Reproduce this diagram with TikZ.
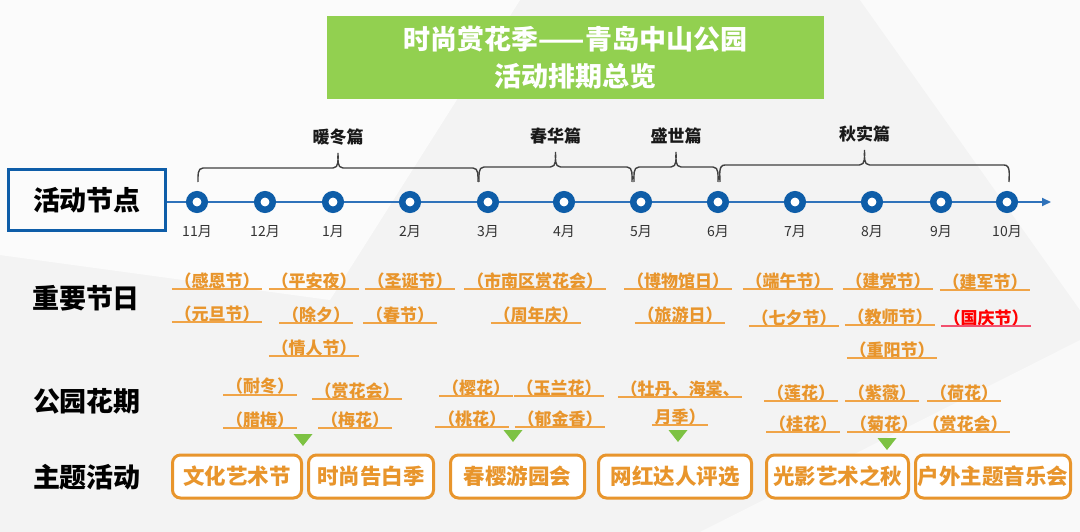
\documentclass[tikz,border=0pt]{standalone}
\usepackage{fontspec}
\setmainfont{Noto Sans CJK SC}
\usetikzlibrary{arrows.meta,positioning}

\definecolor{titlegreen}{HTML}{92D050}
\definecolor{trigreen}{HTML}{7DC243}
\definecolor{nodeblue}{HTML}{0E5DA8}
\definecolor{lineblue}{HTML}{2F72BA}
\definecolor{festorange}{HTML}{E8952C}
\definecolor{festline}{HTML}{F0A447}
\definecolor{festred}{HTML}{F2506E}
\definecolor{bggray}{HTML}{F3F3F3}

\tikzset{
  catlabel/.style={font=\fontsize{27}{30}\selectfont\bfseries, text=black, inner sep=0pt},
  ring/.style={circle, draw=nodeblue, line width=6.5pt, minimum size=15.5pt, inner sep=0pt, fill=white},
  monthlabel/.style={font=\fontsize{14}{16}\selectfont, text=black!80},
  phase/.style={draw=black!75, line width=1.4pt},
  phaselabel/.style={font=\fontsize{17}{19}\selectfont\bfseries, text=black!90},
  fest/.style={font=\fontsize{17}{19}\selectfont\bfseries, text=festorange, inner xsep=2.5pt, inner ysep=0pt, anchor=south,
    append after command={(\tikzlastnode.south west) edge[draw=#1, line width=1.3pt] (\tikzlastnode.south east)}},
  fest/.default=festline,
  theme/.style={draw=festorange, line width=3pt, rounded corners=8pt, fill=white, text=festorange,
    font=\fontsize{21.5}{24}\selectfont\bfseries, minimum height=43pt, inner sep=0pt},
  flowtri/.style={fill=trigreen},
}

% brace over a stretch of months: left x, right x, bar y, name, label
\newcommand{\phasebrace}[5]{%
  \pgfmathsetmacro\pbmid{(#1+#2)/2}%
  \draw[phase] (#1,182) to[out=90,in=180] (#1+5,#3) -- (\pbmid-5,#3)
    to[out=0,in=-90] (\pbmid,#3-15) to[out=-90,in=180] (\pbmid+5,#3)
    -- (#2-5,#3) to[out=0,in=90] (#2,182);
  \node[phaselabel] (#4) at (\pbmid,#3-31) {#5};}

\begin{document}
\begin{tikzpicture}[x=1pt,y=-1pt]
\fill[bggray] (0,0) rectangle (1080,532);
\useasboundingbox (0,0) rectangle (1080,532);
% background
\fill[white,opacity=.75] (0,0) -- (520,0) -- (330,300) -- (0,255) -- cycle;
\fill[white,opacity=.6] (860,0) -- (1080,0) -- (1080,310) -- cycle;
\fill[white,opacity=.5] (700,532) -- (1080,340) -- (1080,532) -- cycle;

% title
\node[fill=titlegreen, minimum width=497pt, minimum height=83pt, text=white, align=center,
  font=\fontsize{27}{37}\selectfont\bfseries] (title) at (575.5,57.5) {时尚赏花季——青岛中山公园\\活动排期总览};

% row heads
\node[catlabel, draw=nodeblue, line width=3pt, minimum width=157pt, minimum height=61pt] (act) at (87,200) {活动节点};
\node[catlabel] (rowfest) at (86,298) {重要节日};
\node[catlabel] (rowflower) at (87,401) {公园花期};
\node[catlabel] (rowtheme) at (87,477) {主题活动};

% timeline
\coordinate (tlend) at (1051,202);
\draw[lineblue, line width=1.8pt, -{Triangle[length=9pt,width=8pt]}] (act.east |- tlend) -- (tlend);
\foreach \x/\m [count=\i] in {197/11, 265/12, 333/1, 410/2, 488/3, 564/4, 641/5, 718/6, 795/7, 872/8, 941/9, 1007/10}{
  \node[ring] (m\i) at (\x,202) {};
  \node[monthlabel] (ml\i) at (\x,232) {\m{}月};
}

% phases
\phasebrace{198}{478}{168}{pw}{暖冬篇}
\phasebrace{479}{632}{167}{ps}{春华篇}
\phasebrace{634}{718}{167}{pm}{盛世篇}
\phasebrace{720}{1009}{165}{pa}{秋实篇}

% festivals
\foreach \x/\y/\t [count=\i] in {217/289/感恩节, 314/289/平安夜, 410/289/圣诞节, 535/289/市南区赏花会,
  678/289/博物馆日, 788/289/端午节, 888/289/建党节, 985/290/建军节, 217/322/元旦节, 316/323/除夕,
  400/323/春节, 536/323/周年庆, 680/323/旅游日, 794/326/七夕节, 890/325/教师节, 314/356/情人节, 892/358/重阳节}
  \node[fest] (hol\i) at (\x,\y) {（\t{}）};
\node[fest=festred, text=red] (holnat) at (986,326) {（国庆节）};

% flowers
\foreach \x/\y/\t [count=\i] in {260/395/耐冬, 357/399/赏花会, 476/396/樱花, 559/396/玉兰花, 801/401/莲花,
  882/401/紫薇, 964/401/荷花, 260/428/腊梅, 355/428/梅花, 472/427/桃花, 560/427/郁金香, 803/432/桂花,
  884/432/菊花, 965/432/赏花会}
  \node[fest] (flw\i) at (\x,\y) {（\t{}）};
\node[fest] (peony) at (680,397) {（牡丹、海棠、};
\node[fest] (rose) at (680,425) {月季）};

\foreach \x/\y in {303/434, 513/430, 678/430, 887/438}
  \fill[flowtri] (\x-9.5,\y) -- (\x+9.5,\y) -- (\x,\y+12) -- cycle;

% theme events
\foreach \x/\w/\t [count=\i] in {237/129/文化艺术节, 371/125/时尚告白季, 517.5/134/春樱游园会,
  675/153/网红达人评选, 837.5/142/光影艺术之秋, 993/155/户外主题音乐会}
  \node[theme, minimum width=\w pt] (ev\i) at (\x,476.5) {\t};
\end{tikzpicture}
\end{document}
